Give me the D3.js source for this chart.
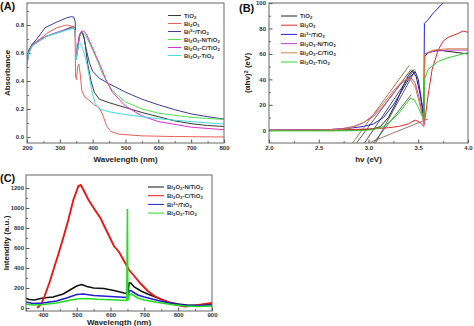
<!DOCTYPE html>
<html>
<head>
<meta charset="utf-8">
<script src="https://cdn.jsdelivr.net/npm/d3@7"></script>
<style>
  body { margin: 0; background: #fff; }
  svg text { font-family: "Liberation Sans", Arial, sans-serif; font-weight: bold; }
</style>
</head>
<body>
<svg id="chart" width="474" height="326"></svg>
<script>
// ---- panel A: UV-vis absorbance ----
var absTiO2 = [[200,0.52],[205,0.60],[215,0.65],[240,0.69],[260,0.72],[300,0.75],[330,0.78],[342,0.79],[347,0.77],[349,0.55],[353,0.60],[360,0.72],[367,0.75],[375,0.70],[385,0.52],[395,0.40],[405,0.32],[420,0.27],[450,0.245],[500,0.21],[550,0.175],[600,0.145],[650,0.115],[700,0.095],[750,0.082],[800,0.075]];
var absBi2O3 = [[200,0.52],[205,0.61],[215,0.66],[240,0.70],[260,0.74],[290,0.78],[320,0.80],[340,0.79],[346,0.78],[348,0.43],[351,0.41],[354,0.50],[358,0.52],[362,0.45],[367,0.33],[375,0.29],[390,0.26],[405,0.23],[420,0.21],[432,0.15],[442,0.08],[455,0.04],[480,0.02],[550,0.008],[650,0.003],[800,0.0]];
var absBi3 = [[200,0.53],[205,0.62],[215,0.66],[230,0.70],[255,0.78],[290,0.82],[320,0.85],[335,0.86],[343,0.855],[347,0.82],[349,0.55],[353,0.62],[360,0.73],[366,0.755],[372,0.73],[380,0.63],[390,0.53],[400,0.47],[420,0.42],[450,0.38],[500,0.32],[550,0.27],[600,0.23],[650,0.195],[700,0.165],[750,0.145],[800,0.128]];
var absN = [[200,0.52],[205,0.60],[215,0.65],[240,0.69],[260,0.72],[300,0.75],[330,0.77],[342,0.78],[347,0.76],[349,0.55],[353,0.62],[360,0.72],[368,0.75],[378,0.73],[390,0.67],[400,0.62],[415,0.54],[430,0.45],[460,0.33],[500,0.25],[550,0.20],[600,0.17],[700,0.14],[800,0.125]];
var absC = [[200,0.52],[205,0.60],[215,0.65],[240,0.70],[260,0.72],[300,0.755],[330,0.775],[342,0.78],[347,0.76],[349,0.55],[353,0.63],[360,0.73],[370,0.76],[380,0.74],[395,0.66],[410,0.58],[425,0.50],[440,0.41],[460,0.32],[480,0.27],[500,0.22],[550,0.15],[600,0.11],[700,0.07],[800,0.052]];
var absBT = [[200,0.52],[205,0.60],[215,0.65],[240,0.69],[260,0.72],[300,0.75],[330,0.77],[342,0.78],[347,0.76],[349,0.55],[353,0.60],[358,0.66],[362,0.67],[370,0.63],[380,0.55],[390,0.43],[398,0.32],[408,0.24],[420,0.20],[450,0.18],[500,0.16],[600,0.13],[700,0.11],[800,0.092]];

// ---- panel B: Tauc plot ----
var taucTiO2 = [[2.0,0],[2.5,0],[2.9,0.3],[3.05,1],[3.12,3],[3.2,10],[3.28,22],[3.35,35],[3.4,43],[3.44,47],[3.48,42],[3.52,28],[3.55,12],[3.56,8],[3.565,58],[3.6,61],[3.7,63],[3.8,62],[3.9,61],[4.0,60]];
var taucBi2O3 = [[2.0,0],[2.8,0.5],[3.0,1],[3.2,2],[3.3,3],[3.4,5],[3.47,8],[3.52,6],[3.555,3],[3.57,10],[3.6,28],[3.64,48],[3.7,63],[3.75,70],[3.8,73],[3.9,76],[3.95,78],[4.0,77]];
var taucBi3 = [[2.0,0],[2.6,0.5],[2.8,1.5],[2.95,3],[3.05,5],[3.15,10],[3.25,20],[3.35,33],[3.42,42],[3.47,46],[3.5,40],[3.53,25],[3.555,12],[3.562,84],[3.6,87],[3.65,92],[3.7,96],[3.75,100],[3.8,103]];
var taucN = [[2.0,0],[2.6,0.5],[2.75,1.5],[2.85,3],[2.95,6],[3.05,11],[3.15,19],[3.25,29],[3.32,36],[3.38,40],[3.43,41],[3.47,37],[3.51,25],[3.55,8],[3.558,5],[3.565,60],[3.65,62],[3.8,63],[4.0,63]];
var taucC = [[2.0,0],[2.6,0.3],[2.75,1],[2.85,2.5],[2.95,6],[3.05,12],[3.15,21],[3.25,31],[3.32,37],[3.38,40],[3.42,40],[3.47,34],[3.51,22],[3.55,8],[3.558,6],[3.565,60],[3.65,63],[3.8,64],[4.0,64]];
var taucBT = [[2.0,-0.5],[2.6,-0.5],[2.9,-0.3],[3.05,0.5],[3.15,3],[3.22,7],[3.3,13],[3.37,20],[3.42,25],[3.46,24],[3.5,18],[3.54,11],[3.557,9],[3.563,40],[3.6,48],[3.7,54],[3.8,57],[3.9,59],[4.0,61]];
// tangent (band gap) lines: [x1, y1, x2, y2]
var tangents = [[3.07,-10,3.47,47],[3.0,-10,3.6,9],[2.96,-10,3.46,48],[2.88,-10,3.43,48],[2.84,-10,3.41,51],[3.05,-10,3.43,28]];
var tangentColors = ["#333", "#8a5050", "#222", "#333", "#8a5a20", "#2a5a2a"];

// ---- panel C: PL spectra ----
var plN = [[350,95],[360,85],[375,80],[400,100],[430,110],[460,140],[480,180],[500,220],[515,235],[530,215],[550,200],[580,195],[610,175],[640,150],[649,145],[651,140],[655,250],[660,250],[670,210],[690,170],[710,140],[740,100],[770,60],[800,40],[830,28],[860,30],[900,40]];
var plC = [[383,0],[395,40],[405,120],[420,260],[430,370],[445,530],[460,700],[475,880],[490,1080],[505,1220],[512,1230],[520,1180],[535,1080],[550,1000],[570,900],[590,760],[610,620],[625,560],[640,470],[655,380],[670,320],[690,240],[710,170],[730,120],[760,70],[790,35],[820,15],[850,25],[880,40],[900,50]];
var plBi3 = [[350,60],[370,45],[400,50],[440,70],[470,100],[500,135],[520,140],[550,125],[600,115],[649,105],[651,100],[655,175],[662,170],[680,130],[700,110],[740,75],[780,45],[820,28],[860,25],[900,30]];
var plBT = [[350,40],[370,30],[400,35],[440,50],[470,70],[500,90],[530,95],[560,88],[600,82],[648,75],[650,990],[651,75],[655,130],[662,140],[680,100],[700,80],[740,55],[780,35],[820,20],[860,15],[900,20]];

var namesA = ["TiO_2", "Bi_2O_3", "Bi^{3+}/TiO_2", "Bi_2O_3-N/TiO_2", "Bi_2O_3-C/TiO_2", "Bi_2O_3-TiO_2"];
var colorsA = ["#3a3a3a", "#e8605a", "#3c3c96", "#55e055", "#e030d0", "#40dede"];
var colorsB = ["#222", "#e02828", "#2020d8", "#c040c0", "#d08040", "#30d030"];
var namesC = ["Bi_2O_3-N/TiO_2", "Bi_2O_3-C/TiO_2", "Bi^{3+}/TiO_2", "Bi_2O_3-TiO_2"];
var colorsC = ["#111", "#e81818", "#2020d0", "#22dd22"];

var svg = d3.select("#chart");

// write a label with _x subscripts and ^{..} superscripts
function richText(sel, s, size) {
  var re = /_(\d)|\^\{([^}]*)\}|([^_^]+)/g, m;
  while ((m = re.exec(s)) !== null) {
    if (m[1]) sel.append("tspan").attr("baseline-shift", "-25%").attr("font-size", size * 0.72).text(m[1]);
    else if (m[2]) sel.append("tspan").attr("baseline-shift", "40%").attr("font-size", size * 0.72).text(m[2]);
    else sel.append("tspan").attr("font-size", size).text(m[3]);
  }
}

function panel(opt) {
  var g = svg.append("g");
  var x = d3.scaleLinear().domain(opt.xd).range(opt.xr);
  var y = d3.scaleLinear().domain(opt.yd).range(opt.yr);
  var clipId = "clip" + opt.id;
  g.append("clipPath").attr("id", clipId).append("rect")
    .attr("x", opt.xr[0]).attr("y", opt.yr[1]).attr("width", opt.xr[1] - opt.xr[0]).attr("height", opt.yr[0] - opt.yr[1]);

  // minor + major ticks, pointing inward
  function axis(a, ticks, minor, fmt, transform) {
    var mg = g.append("g").attr("transform", transform)
      .call(a.tickValues(minor).tickSize(-1.8).tickFormat(""));
    mg.select(".domain").remove();
    mg.selectAll("text").remove();
    mg.selectAll("line").attr("stroke", "#555");
    var ag = g.append("g").attr("transform", transform)
      .call(a.tickValues(ticks).tickSizeInner(-3.5).tickSizeOuter(0).tickPadding(opt.pad || 3).tickFormat(fmt));
    ag.select(".domain").remove();
    ag.selectAll("line").attr("stroke", "#555");
    ag.selectAll("text").attr("font-size", 6).attr("fill", "#333").attr("font-family", null);
  }
  axis(d3.axisBottom(x), opt.xt, opt.xm, opt.xf, "translate(0," + opt.yr[0] + ")");
  axis(d3.axisLeft(y), opt.yt, opt.ym, opt.yf, "translate(" + opt.xr[0] + ",0)");

  var line = d3.line().x(function(d) { return x(d[0]); }).y(function(d) { return y(d[1]); });
  var lg = g.append("g").attr("clip-path", "url(#" + clipId + ")");
  if (opt.segs) {
    opt.segs.forEach(function(s, i) {
      lg.append("line").attr("x1", x(s[0])).attr("y1", y(s[1])).attr("x2", x(s[2])).attr("y2", y(s[3]))
        .attr("stroke", opt.segColors[i]).attr("stroke-width", 0.8);
    });
  }
  opt.series.forEach(function(d, i) {
    lg.append("path").datum(d).attr("d", line).attr("fill", "none")
      .attr("stroke", opt.colors[i]).attr("stroke-width", opt.widths ? opt.widths[i] : 1);
  });

  g.append("rect").attr("x", opt.xr[0]).attr("y", opt.yr[1])
    .attr("width", opt.xr[1] - opt.xr[0]).attr("height", opt.yr[0] - opt.yr[1])
    .attr("fill", "none").attr("stroke", "#666").attr("stroke-width", 1);

  // legend
  opt.names.forEach(function(n, i) {
    var ly = opt.leg[2] + i * opt.leg[3];
    g.append("line").attr("x1", opt.leg[0]).attr("x2", opt.leg[1]).attr("y1", ly).attr("y2", ly)
      .attr("stroke", opt.legColors[i]).attr("stroke-width", 1);
    var t = g.append("text").attr("x", opt.leg[1] + 3).attr("y", ly + 2.2).attr("font-size", 6).attr("fill", "#333");
    richText(t, n, 6);
  });

  // titles
  g.append("text").attr("x", (opt.xr[0] + opt.xr[1]) / 2).attr("y", opt.yr[0] + opt.xlo)
    .attr("text-anchor", "middle").attr("font-size", 8).attr("fill", "#222").text(opt.xl);
  var yt = g.append("text").attr("transform", "translate(" + opt.ylx + "," + (opt.yr[0] + opt.yr[1]) / 2 + ") rotate(-90)")
    .attr("text-anchor", "middle").attr("font-size", 8).attr("fill", "#222");
  richText(yt, opt.yl, 8);
  g.append("text").attr("x", opt.tag[0]).attr("y", opt.tag[1]).attr("font-size", 11).attr("fill", "#111").text(opt.tagText);
}

panel({
  id: "A", xd: [200, 800], xr: [27, 224], yd: [-0.043, 0.957], yr: [143, 3],
  xt: d3.range(200, 801, 100), xm: d3.range(250, 800, 100), xf: d3.format("d"),
  yt: [0, 0.2, 0.4, 0.6, 0.8], ym: [0.1, 0.3, 0.5, 0.7, 0.9], yf: d3.format(".1f"),
  series: [absTiO2, absBi2O3, absBi3, absN, absC, absBT], colors: colorsA,
  names: namesA, legColors: colorsA, leg: [168, 181, 15.5, 8],
  xl: "Wavelength (nm)", xlo: 19, yl: "Absorbance", ylx: 10, tag: [0, 10], tagText: "(A)"
});

panel({
  id: "B", xd: [2, 4], xr: [269, 468], yd: [-10, 100], yr: [143, 3],
  xt: [2, 2.5, 3, 3.5, 4], xm: [2.25, 2.75, 3.25, 3.75], xf: d3.format(".1f"),
  yt: d3.range(0, 101, 20), ym: d3.range(10, 100, 20), yf: d3.format("d"),
  series: [taucTiO2, taucBi2O3, taucBi3, taucN, taucC, taucBT], colors: colorsB,
  segs: tangents, segColors: tangentColors,
  names: namesA, legColors: colorsB, leg: [281, 297, 16, 9.2],
  xl: "h\u03bd (eV)", xlo: 19, yl: "(\u03b1h\u03bd)^{2} (eV)", ylx: 250, tag: [239, 12], tagText: "(B)"
});

panel({
  id: "C", xd: [350, 900], xr: [26, 212], yd: [-30, 1330], yr: [311, 175], pad: 2,
  xt: d3.range(400, 901, 100), xm: d3.range(350, 900, 100), xf: d3.format("d"),
  yt: d3.range(0, 1201, 200), ym: d3.range(100, 1300, 200), yf: d3.format("d"),
  series: [plN, plC, plBi3, plBT], colors: colorsC, widths: [1.6, 1.9, 1.6, 1.6],
  names: namesC, legColors: colorsC, leg: [148, 164, 187, 8.7],
  xl: "Wavelength (nm)", xlo: 14, yl: "Intendity (a.u.)", ylx: 9, tag: [0, 182], tagText: "(C)"
});
</script>
</body>
</html>
